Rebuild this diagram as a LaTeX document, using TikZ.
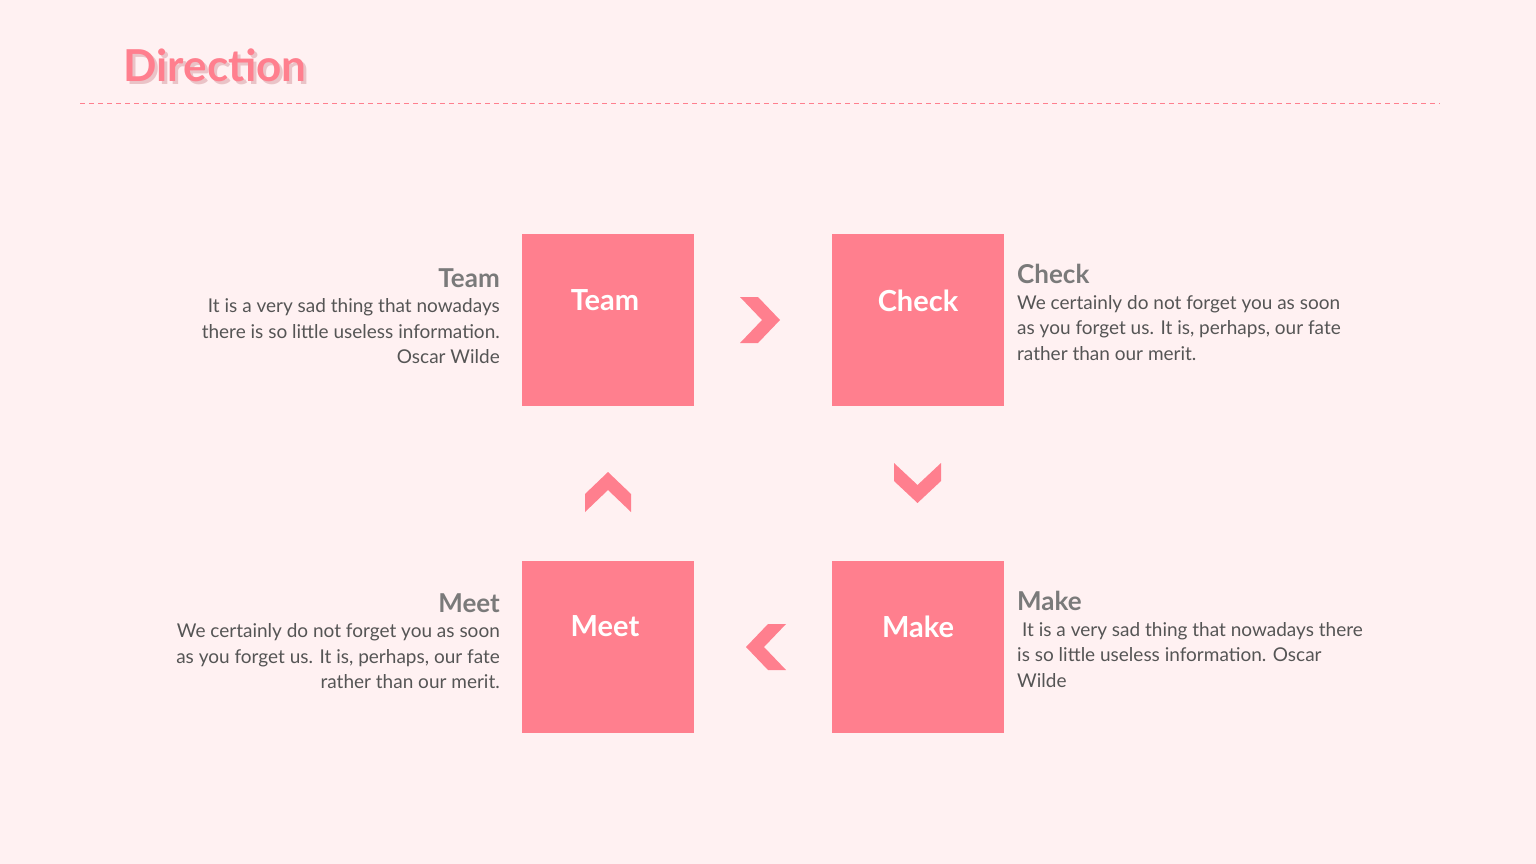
\documentclass[tikz,border=0pt]{standalone}
\usepackage{fontspec}
\setmainfont{Lato}
\definecolor{bg}{HTML}{FFF1F2}
\definecolor{pk}{HTML}{FF7F8E}
\definecolor{tx}{HTML}{555555}
\definecolor{hd}{HTML}{7A7A7A}
\begin{document}
\begin{tikzpicture}[x=1pt,y=-1pt,
  sq/.style={fill=pk,minimum width=172pt,minimum height=172pt,anchor=north west,inner sep=0pt},
  lab/.style={text=white,font=\fontsize{29}{32}\selectfont\bfseries,anchor=center},
  desc/.style={text=tx,font=\fontsize{19}{25.5}\selectfont,inner sep=0pt},
  chev/.style={fill=pk}]
\fill[bg] (0,0) rectangle (1536,864);
\useasboundingbox (0,0) rectangle (1536,864);
\node[text=pk!60!gray,opacity=.4,font=\fontsize{44}{48}\selectfont\bfseries,anchor=west] at (123,68) {Direction};
\node (title) [text=pk,font=\fontsize{44}{48}\selectfont\bfseries,anchor=west] at (120,65) {Direction};
\coordinate (l1) at (80,104); \coordinate (l2) at (1440,104);
\draw[pk,dash pattern=on 5pt off 4pt,line width=1pt] (l1) -- (l2);
\node (team) [sq] at (522,234) {}; \node (check) [sq] at (832,234) {};
\node (meet) [sq] at (522,561) {}; \node (make) [sq] at (832,561) {};
\node (tl) [lab] at (605,300) {Team};
\node (cl) [lab] at (918,301) {Check};
\node (ml) [lab] at (605,626) {Meet};
\node (kl) [lab] at (918,627) {Make};
\fill[chev] (740,297)--(758,297)--(780,320)--(758,343)--(740,343)--(762,320)--cycle;
\fill[chev] (894,463)--(894,481)--(917.5,503)--(941,481)--(941,463)--(917.5,485)--cycle;
\fill[chev] (585,494)--(585,512)--(608,490)--(631,512)--(631,494)--(608,472)--cycle;
\fill[chev] (786,624)--(768,624)--(746,647)--(768,670)--(786,670)--(764,647)--cycle;
\node (tt) [desc,anchor=north east,align=right] at (500,268)
 {{\fontsize{26}{30}\selectfont\bfseries\color{hd}Team}\\It is a very sad thing that nowadays\\there is so little useless information.\\Oscar Wilde};
\node (ct) [desc,anchor=north west,align=left] at (1017,264)
 {{\fontsize{26}{30}\selectfont\bfseries\color{hd}Check}\\We certainly do not forget you as soon\\as you forget us. It is, perhaps, our fate\\rather than our merit.};
\node (mt) [desc,anchor=north east,align=right] at (500,593)
 {{\fontsize{26}{30}\selectfont\bfseries\color{hd}Meet}\\We certainly do not forget you as soon\\as you forget us. It is, perhaps, our fate\\rather than our merit.};
\node (kt) [desc,anchor=north west,align=left] at (1017,591)
 {{\fontsize{26}{30}\selectfont\bfseries\color{hd}Make}\\\ It is a very sad thing that nowadays there\\is so little useless information. Oscar\\Wilde};
\end{tikzpicture}
\end{document}
